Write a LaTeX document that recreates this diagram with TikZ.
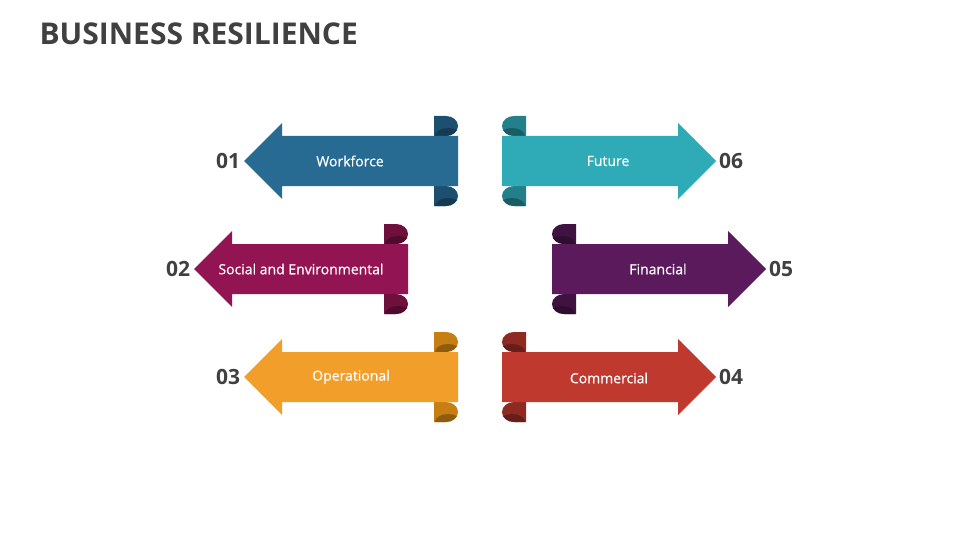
\documentclass[tikz,border=0pt]{standalone}
\usepackage{fontspec}
\setmainfont{Open Sans}
\newfontfamily\lblfont{Open Sans}[FakeBold=0.6]
\usepackage{tikz}
\usetikzlibrary{positioning}
\definecolor{titlegray}{HTML}{404040}
\definecolor{workblue}{HTML}{276A92}
\definecolor{workdark}{HTML}{1D5070}
\definecolor{futureteal}{HTML}{2EABB7}
\definecolor{futuredark}{HTML}{23808A}
\definecolor{socialplum}{HTML}{931452}
\definecolor{socialdark}{HTML}{6E0F3D}
\definecolor{finpurple}{HTML}{5A1A5C}
\definecolor{findark}{HTML}{401242}
\definecolor{operorange}{HTML}{F29E2B}
\definecolor{operdark}{HTML}{C77E13}
\definecolor{comred}{HTML}{C0392F}
\definecolor{comdark}{HTML}{8F2A23}

% scroll arrow, tip at the origin, pointing left
\newcommand{\resarrow}[2]{%
  \begin{scope}
    \clip (190,-45) -- (202,-45) arc[start angle=-90, end angle=90, x radius=12, y radius=10] -- (190,-25) -- cycle;
    \fill[#2] (185,-50) rectangle (220,-20);
    \fill[#2!72!black] (204,-25) ellipse (13 and 8);
  \end{scope}
  \begin{scope}
    \clip (190,25) -- (202,25) arc[start angle=-90, end angle=90, x radius=12, y radius=10] -- (190,45) -- cycle;
    \fill[#2] (185,20) rectangle (220,50);
    \fill[#2!72!black] (204,45) ellipse (13 and 8);
  \end{scope}
  \fill[#1] (0,0) -- (38,-38) -- (38,-25) -- (214,-25) -- (214,25) -- (38,25) -- (38,38) -- cycle;
}

\begin{document}
\begin{tikzpicture}[x=1pt, y=-1pt]
  \useasboundingbox (0,0) rectangle (960,540);

  % Title
  \node[titlegray, anchor=west, font=\fontsize{30}{30}\selectfont\bfseries] (title) at (36,34) {BUSINESS RESILIENCE};

  % Left column
  \begin{scope}[shift={(244,161)}]
    \resarrow{workblue}{workdark}
  \end{scope}
  \begin{scope}[shift={(194,269)}]
    \resarrow{socialplum}{socialdark}
  \end{scope}
  \begin{scope}[shift={(244,377)}]
    \resarrow{operorange}{operdark}
  \end{scope}

  % Right column
  \begin{scope}[shift={(716,161)}, xscale=-1]
    \resarrow{futureteal}{futuredark}
  \end{scope}
  \begin{scope}[shift={(766,269)}, xscale=-1]
    \resarrow{finpurple}{findark}
  \end{scope}
  \begin{scope}[shift={(716,377)}, xscale=-1]
    \resarrow{comred}{comdark}
  \end{scope}

  % Labels
  \node[white, font=\fontsize{14}{14}\selectfont\lblfont] (lblwork) at (350,161) {Workforce};
  \node[white, font=\fontsize{14}{14}\selectfont\lblfont] (lblsocial) at (301,269) {Social and Environmental};
  \node[white, font=\fontsize{14}{14}\selectfont\lblfont] (lbloper) at (351,377) {Operational};
  \node[white, font=\fontsize{14}{14}\selectfont\lblfont] (lblfuture) at (608,161) {Future};
  \node[white, font=\fontsize{14}{14}\selectfont\lblfont] (lblfin) at (658,269) {Financial};
  \node[white, font=\fontsize{14}{14}\selectfont\lblfont] (lblcom) at (609,378) {Commercial};

  % Numbers
  \node[titlegray, font=\fontsize{21}{21}\selectfont\bfseries] (num01) at (228,161) {01};
  \node[titlegray, font=\fontsize{21}{21}\selectfont\bfseries] (num02) at (178,269) {02};
  \node[titlegray, font=\fontsize{21}{21}\selectfont\bfseries] (num03) at (228,377) {03};
  \node[titlegray, font=\fontsize{21}{21}\selectfont\bfseries] (num06) at (731,161) {06};
  \node[titlegray, font=\fontsize{21}{21}\selectfont\bfseries] (num05) at (781,269) {05};
  \node[titlegray, font=\fontsize{21}{21}\selectfont\bfseries] (num04) at (731,377) {04};
\end{tikzpicture}
\end{document}
